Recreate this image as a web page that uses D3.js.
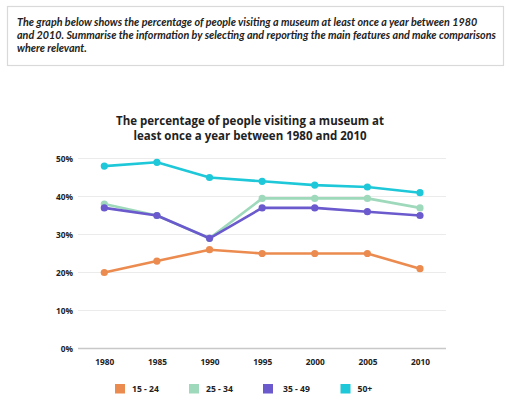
<!DOCTYPE html>
<html>
<head>
<meta charset="utf-8">
<script src="https://cdn.jsdelivr.net/npm/d3@7"></script>
<style>
  body { margin: 0; background: #fff; }
</style>
</head>
<body>
<svg id="chart"></svg>
<script>
// data
var years = [1980, 1985, 1990, 1995, 2000, 2005, 2010];
var groups = ["15 - 24", "25 - 34", "35 - 49", "50+"];
var age15to24 = [20, 23, 26, 25, 25, 25, 21];
var age25to34 = [38, 35, 29, 39.5, 39.5, 39.5, 37];
var age35to49 = [37, 35, 29, 37, 37, 36, 35];
var age50plus = [48, 49, 45, 44, 43, 42.5, 41];
var yTicks = [0, 10, 20, 30, 40, 50];
var colors = ["#ec8b4f", "#9fd9bb", "#6a5acd", "#1ec8d8"];

var prompt_lines = [
    "The graph below shows the percentage of people visiting a museum at least once a year between 1980",
    "and 2010. Summarise the information by selecting and reporting the main features and make comparisons",
    "where relevant."
];
var title_lines = [
    "The percentage of people visiting a museum at",
    "least once a year between 1980 and 2010"
];

var width = 512;
var height = 412;
var margin = {"top": 158.5, "right": 66, "bottom": 63.5, "left": 78};

var svg = d3.select("svg#chart")
    .attr("width", width)
    .attr("height", height);

// task prompt box
svg.append("rect")
    .attr("x", 7.5)
    .attr("y", 6.5)
    .attr("width", 496)
    .attr("height", 59)
    .attr("fill", "#fff")
    .attr("stroke", "#d9d9d9")
    .attr("stroke-width", 1.2);

svg.append("g")
    .selectAll("text")
    .data(prompt_lines)
    .join("text")
    .attr("x", 17)
    .attr("y", function(d, i) { return 26 + i * 12.9; })
    .attr("fill", "#222")
    .style("font-family", "Lato, 'Open Sans', sans-serif")
    .style("font-style", "italic")
    .style("font-weight", "bold")
    .style("font-size", "10.75px")
    .text(function(d) { return d; });

// chart title
svg.append("g")
    .selectAll("text")
    .data(title_lines)
    .join("text")
    .attr("x", 250)
    .attr("y", function(d, i) { return 124.5 + i * 15.2; })
    .attr("text-anchor", "middle")
    .attr("fill", "#222")
    .style("font-family", "'Open Sans', sans-serif")
    .style("font-weight", "bold")
    .style("font-size", "11.5px")
    .text(function(d) { return d; });

var x = d3.scalePoint()
    .domain(years)
    .range([104.3, 420])
    .padding(0);

var y = d3.scaleLinear()
    .domain([0, 50])
    .range([height - margin.bottom, margin.top]);

// gridlines
svg.append("g")
    .selectAll("line")
    .data(yTicks)
    .join("line")
    .attr("x1", margin.left)
    .attr("x2", width - margin.right)
    .attr("y1", function(d) { return y(d); })
    .attr("y2", function(d) { return y(d); })
    .attr("stroke", function(d) { return d === 0 ? "#c8c8c8" : "#ebebeb"; })
    .attr("stroke-width", function(d) { return d === 0 ? 1.3 : 1; });

var yAxis = svg.append("g")
    .attr("transform", "translate(" + 73 + ",0)")
    .call(d3.axisLeft(y).tickValues(yTicks).tickSize(0).tickFormat(function(d) { return d + "%"; }));
yAxis.select(".domain").remove();

var xAxis = svg.append("g")
    .attr("transform", "translate(0," + (height - margin.bottom + 8) + ")")
    .call(d3.axisBottom(x).tickSize(0));
xAxis.select(".domain").remove();

svg.selectAll(".tick text")
    .attr("fill", "#222")
    .style("font-family", "'Open Sans', sans-serif")
    .style("font-weight", "bold")
    .style("font-size", "8.3px");
yAxis.selectAll(".tick text").attr("x", 0).attr("text-anchor", "end");

var series = [age15to24, age25to34, age35to49, age50plus];

var line = d3.line()
    .x(function(d, i) { return x(years[i]); })
    .y(function(d) { return y(d); });

var plots = svg.append("g")
    .selectAll("g")
    .data(series)
    .join("g");

plots.append("path")
    .attr("d", function(d) { return line(d); })
    .attr("fill", "none")
    .attr("stroke", function(d, i) { return colors[i]; })
    .attr("stroke-width", 2.6)
    .attr("stroke-linejoin", "round");

plots.each(function(d, i) {
    d3.select(this).selectAll("circle")
        .data(d)
        .join("circle")
        .attr("cx", function(v, j) { return x(years[j]); })
        .attr("cy", function(v) { return y(v); })
        .attr("r", 3.6)
        .attr("fill", colors[i]);
});

// legend
var legend_x = [115, 189, 263, 340.5];
var legend = svg.append("g")
    .selectAll("g")
    .data(groups)
    .join("g")
    .attr("transform", function(d, i) { return "translate(" + legend_x[i] + ",384)"; });

legend.append("rect")
    .attr("width", 10)
    .attr("height", 9.5)
    .attr("fill", function(d, i) { return colors[i]; });

legend.append("text")
    .attr("x", function(d, i) { return i === 2 ? 20 : 17; })
    .attr("y", 7.8)
    .attr("fill", "#222")
    .style("font-family", "'Open Sans', sans-serif")
    .style("font-weight", "bold")
    .style("font-size", "8.6px")
    .text(function(d) { return d; });
</script>
</body>
</html>
